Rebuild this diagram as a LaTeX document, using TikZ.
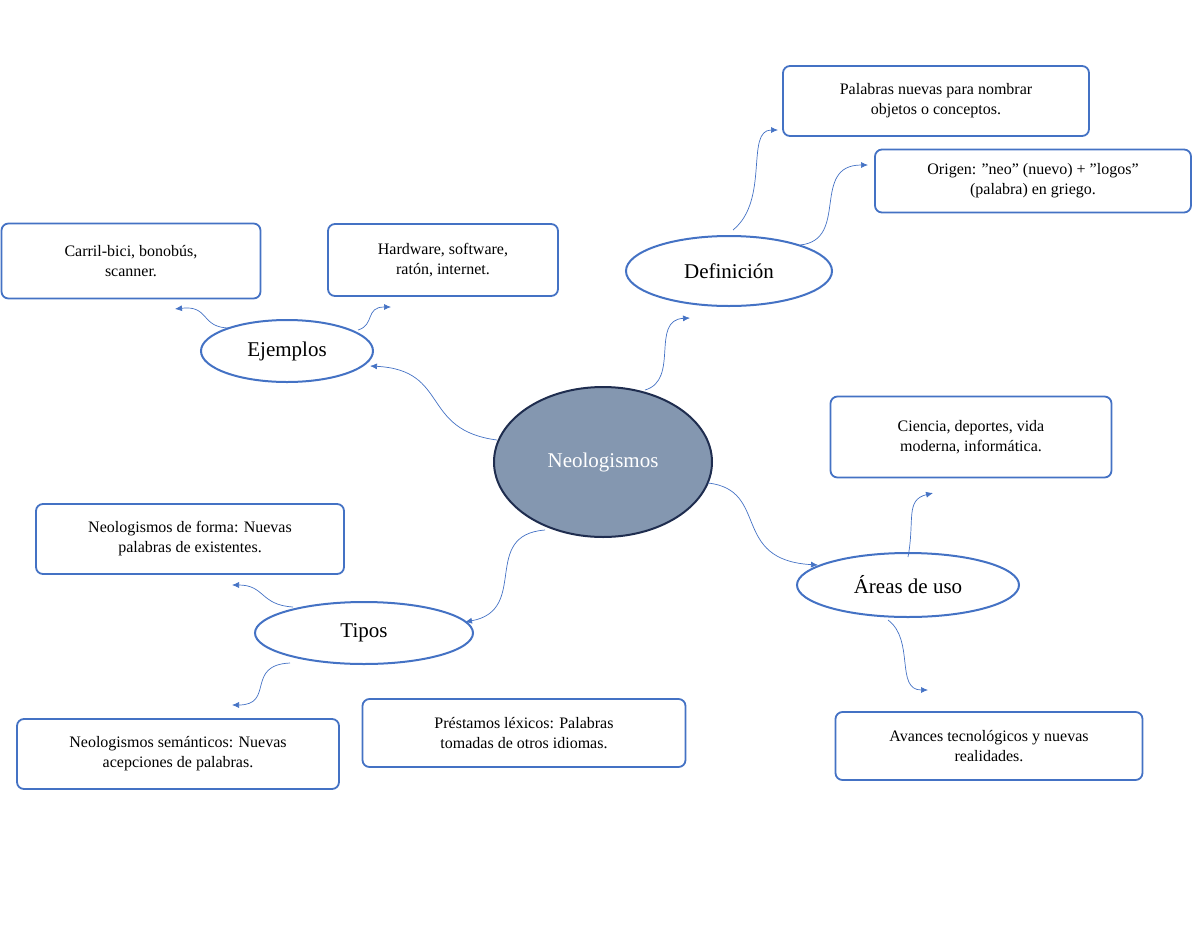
\documentclass[tikz,border=0pt]{standalone}
\usepackage{fontspec}
\setmainfont{Liberation Serif}
\usetikzlibrary{arrows.meta,shapes.geometric}
\definecolor{bl}{HTML}{4472C4}
\definecolor{navy}{HTML}{1F2D4F}
\definecolor{cfill}{HTML}{8497B0}
\begin{document}
\begin{tikzpicture}[x=1pt,y=-1pt,
  box/.style={draw=bl,line width=1.8pt,rounded corners=7pt,align=center,font=\fontsize{16}{20}\selectfont,inner sep=0pt},
  ell/.style={draw=bl,line width=2pt,ellipse,inner sep=0pt,font=\fontsize{21}{24}\selectfont},
  con/.style={draw=bl,line width=0.7pt,-{Latex[length=7pt,width=6pt]}}]
\useasboundingbox (0,0) rectangle (1200,927);
\node[ell,draw=navy,fill=cfill,text=white,minimum width=218pt,minimum height=150pt,line width=2pt] (neo) at (603,462) {Neologismos};
\node[ell,minimum width=206pt,minimum height=70pt] (def) at (729,271) {Definición};
\node[ell,minimum width=172pt,minimum height=62pt] (eje) at (287,351) {Ejemplos};
\node[ell,minimum width=222pt,minimum height=64pt] (are) at (908,585) {Áreas de uso};
\node[ell,minimum width=218pt,minimum height=62pt] (tip) at (364,633) {Tipos};
\node[box,minimum width=306pt,minimum height=70pt] (b1) at (936,101) {Palabras nuevas para nombrar\\objetos o conceptos.};
\node[box,minimum width=316pt,minimum height=63pt] (b2) at (1033,181) {Origen: "neo" (nuevo) + "logos"\\(palabra) en griego.};
\node[box,minimum width=259pt,minimum height=75pt] (b3) at (131,261) {Carril-bici, bonobús,\\scanner.};
\node[box,minimum width=230pt,minimum height=72pt] (b4) at (443,260) {Hardware, software,\\ratón, internet.};
\node[box,minimum width=281pt,minimum height=81pt] (b5) at (971,437) {Ciencia, deportes, vida\\moderna, informática.};
\node[box,minimum width=308pt,minimum height=70pt] (b6) at (190,539) {Neologismos de forma: Nuevas\\palabras de existentes.};
\node[box,minimum width=323pt,minimum height=68pt] (b7) at (524,733) {Préstamos léxicos: Palabras\\tomadas de otros idiomas.};
\node[box,minimum width=322pt,minimum height=70pt] (b8) at (178,754) {Neologismos semánticos: Nuevas\\acepciones de palabras.};
\node[box,minimum width=307pt,minimum height=68pt] (b9) at (989,746) {Avances tecnológicos y nuevas\\realidades.};
% connector endpoints
\coordinate (a1) at (497,440); \coordinate (e1) at (370,366);
\coordinate (a2) at (645,390); \coordinate (e2) at (690,318);
\coordinate (a3) at (708,483); \coordinate (e3) at (818,565);
\coordinate (a4) at (545,530); \coordinate (e4) at (465,622);
\coordinate (a5) at (733,230); \coordinate (e5) at (778,130);
\coordinate (a6) at (800,245); \coordinate (e6) at (868,165);
\coordinate (a7) at (230,328); \coordinate (e7) at (175,309);
\coordinate (a8) at (358,330); \coordinate (e8) at (391,307);
\coordinate (a9) at (908,557); \coordinate (e9) at (933,493);
\coordinate (a10) at (888,620); \coordinate (e10) at (928,690);
\coordinate (a11) at (293,607); \coordinate (e11) at (232,585);
\coordinate (a12) at (290,663); \coordinate (e12) at (232,705);
\draw[con] (a1) .. controls (420,430) and (450,370) .. (e1);
\draw[con] (a2) .. controls (680,380) and (650,320) .. (e2);
\draw[con] (a3) .. controls (770,490) and (730,560) .. (e3);
\draw[con] (a4) .. controls (480,535) and (530,610) .. (e4);
\draw[con] (a5) .. controls (770,200) and (745,130) .. (e5);
\draw[con] (a6) .. controls (850,240) and (810,165) .. (e6);
\draw[con] (a7) .. controls (200,328) and (210,305) .. (e7);
\draw[con] (a8) .. controls (375,325) and (365,307) .. (e8);
\draw[con] (a9) .. controls (915,520) and (905,500) .. (e9);
\draw[con] (a10) .. controls (915,640) and (895,690) .. (e10);
\draw[con] (a11) .. controls (260,605) and (265,585) .. (e11);
\draw[con] (a12) .. controls (245,665) and (275,705) .. (e12);
\end{tikzpicture}
\end{document}
